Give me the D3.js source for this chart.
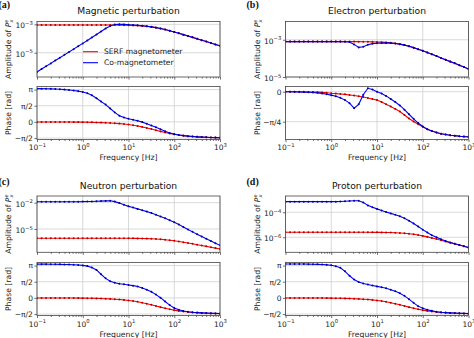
<!DOCTYPE html>
<html>
<head>
<meta charset="utf-8">
<script src="https://cdn.jsdelivr.net/npm/d3@7"></script>
<style>
  body { margin: 0; background: #fff; }
  svg { display: block; font-family: "DejaVu Sans", sans-serif; }
</style>
</head>
<body>
<svg id="chart" width="474" height="338"></svg>
<script>
// frequency grid [Hz], shared by every curve
const freq = [
  0.1, 0.126, 0.158, 0.2, 0.251, 0.316, 0.398, 0.501, 0.631, 0.794,
  1, 1.26, 1.58, 2, 2.51, 3.16, 3.98, 5.01, 6.31, 7.94,
  10, 12.6, 15.8, 20, 25.1, 31.6, 39.8, 50.1, 63.1, 79.4,
  100, 126, 158, 200, 251, 316, 398, 501, 631, 794, 1000];

const seriesNames = ["SERF magnetometer", "Co-magnetometer"];

// (a) magnetic perturbation
const ampMagSerf = [
  9.0e-4, 9.0e-4, 9.0e-4, 9.0e-4, 9.0e-4, 9.0e-4, 9.0e-4, 9.0e-4, 9.0e-4, 9.0e-4,
  9.0e-4, 9.0e-4, 9.0e-4, 9.0e-4, 8.98e-4, 8.96e-4, 8.93e-4, 8.89e-4, 8.85e-4, 8.75e-4,
  8.63e-4, 8.43e-4, 8.15e-4, 7.76e-4, 7.23e-4, 6.58e-4, 5.83e-4, 5.05e-4, 4.27e-4, 3.53e-4,
  2.89e-4, 2.34e-4, 1.88e-4, 1.51e-4, 1.21e-4, 9.6e-5, 7.6e-5, 6.1e-5, 4.8e-5, 3.8e-5, 3.1e-5];
const ampMagComag = [
  4.45e-7, 7.05e-7, 1.12e-6, 1.77e-6, 2.81e-6, 4.45e-6, 7.06e-6, 1.12e-5, 1.79e-5, 2.85e-5,
  4.55e-5, 7.31e-5, 1.18e-4, 1.93e-4, 3.16e-4, 5.10e-4, 7.67e-4, 9.68e-4, 1.02e-3, 9.89e-4,
  9.42e-4, 8.95e-4, 8.47e-4, 7.96e-4, 7.35e-4, 6.64e-4, 5.87e-4, 5.07e-4, 4.27e-4, 3.53e-4,
  2.89e-4, 2.34e-4, 1.88e-4, 1.51e-4, 1.21e-4, 9.6e-5, 7.6e-5, 6.1e-5, 4.8e-5, 3.8e-5, 3.1e-5];
const phaseMagSerf = [
  -0.003, -0.003, -0.004, -0.005, -0.007, -0.008, -0.010, -0.013, -0.017, -0.021,
  -0.026, -0.033, -0.042, -0.053, -0.066, -0.083, -0.104, -0.131, -0.165, -0.206,
  -0.257, -0.320, -0.394, -0.485, -0.584, -0.694, -0.809, -0.922, -1.029, -1.125,
  -1.207, -1.278, -1.336, -1.383, -1.421, -1.451, -1.476, -1.495, -1.511, -1.523, -1.533];
const phaseMagComag = [
  3.23, 3.23, 3.22, 3.21, 3.19, 3.17, 3.14, 3.10, 3.05, 2.99,
  2.90, 2.78, 2.58, 2.30, 1.98, 1.68, 1.30, 0.92, 0.60, 0.42,
  0.30, 0.21, 0.11, -0.02, -0.17, -0.35, -0.53, -0.72, -0.90, -1.07,
  -1.19, -1.27, -1.33, -1.383, -1.421, -1.451, -1.476, -1.495, -1.511, -1.523, -1.533];

// (b) electron perturbation
const ampElecSerf = [
  7.94e-4, 7.94e-4, 7.94e-4, 7.94e-4, 7.94e-4, 7.94e-4, 7.94e-4, 7.94e-4, 7.94e-4, 7.94e-4,
  7.94e-4, 7.94e-4, 7.94e-4, 7.94e-4, 7.94e-4, 7.94e-4, 7.89e-4, 7.85e-4, 7.81e-4, 7.73e-4,
  7.62e-4, 7.45e-4, 7.19e-4, 6.85e-4, 6.38e-4, 5.81e-4, 5.15e-4, 4.46e-4, 3.77e-4, 3.12e-4,
  2.55e-4, 2.07e-4, 1.66e-4, 1.33e-4, 1.06e-4, 8.5e-5, 6.7e-5, 5.4e-5, 4.3e-5, 3.4e-5, 2.7e-5];
const ampElecComag = [
  7.94e-4, 7.94e-4, 7.94e-4, 7.94e-4, 7.94e-4, 7.94e-4, 7.94e-4, 7.94e-4, 7.94e-4, 7.94e-4,
  7.94e-4, 7.94e-4, 7.94e-4, 7.76e-4, 7.59e-4, 5.62e-4, 3.89e-4, 4.17e-4, 5.37e-4, 6.17e-4,
  6.46e-4, 6.61e-4, 6.76e-4, 6.61e-4, 6.31e-4, 5.81e-4, 5.15e-4, 4.46e-4, 3.77e-4, 3.12e-4,
  2.55e-4, 2.07e-4, 1.66e-4, 1.33e-4, 1.06e-4, 8.5e-5, 6.7e-5, 5.4e-5, 4.3e-5, 3.4e-5, 2.7e-5];
const phaseElecSerf = [
  0, -0.001, -0.002, -0.003, -0.004, -0.006, -0.008, -0.012, -0.018, -0.027,
  -0.04, -0.05, -0.06, -0.07, -0.085, -0.10, -0.12, -0.14, -0.165, -0.19,
  -0.22, -0.27, -0.33, -0.39, -0.455, -0.52, -0.61, -0.70, -0.78, -0.85,
  -0.92, -0.98, -1.03, -1.07, -1.10, -1.12, -1.14, -1.15, -1.165, -1.175, -1.18];
const phaseElecComag = [
  0, -0.002, -0.004, -0.006, -0.01, -0.015, -0.02, -0.03, -0.045, -0.065,
  -0.09, -0.12, -0.16, -0.22, -0.30, -0.43, -0.33, -0.08, 0.09, 0.06,
  0.0, -0.05, -0.11, -0.19, -0.27, -0.36, -0.47, -0.59, -0.71, -0.82,
  -0.91, -0.98, -1.03, -1.07, -1.10, -1.12, -1.14, -1.15, -1.165, -1.175, -1.18];

// (c) neutron perturbation
const ampNeutSerf = [
  8.71e-7, 8.71e-7, 8.71e-7, 8.71e-7, 8.71e-7, 8.71e-7, 8.71e-7, 8.71e-7, 8.71e-7, 8.71e-7,
  8.71e-7, 8.71e-7, 8.71e-7, 8.71e-7, 8.71e-7, 8.71e-7, 8.71e-7, 8.68e-7, 8.67e-7, 8.63e-7,
  8.59e-7, 8.53e-7, 8.41e-7, 8.26e-7, 8.03e-7, 7.70e-7, 7.26e-7, 6.68e-7, 6.00e-7, 5.25e-7,
  4.48e-7, 3.75e-7, 3.08e-7, 2.51e-7, 2.02e-7, 1.62e-7, 1.30e-7, 1.04e-7, 8.24e-8, 6.56e-8, 5.21e-8];
const ampNeutComag = [
  0.0129, 0.0129, 0.0129, 0.0129, 0.0129, 0.0129, 0.0129, 0.0129, 0.0129, 0.0129,
  0.0132, 0.0135, 0.0138, 0.0145, 0.0151, 0.0158, 0.0162, 0.0132, 8.91e-3, 5.75e-3,
  3.80e-3, 2.75e-3, 1.95e-3, 1.38e-3, 9.55e-4, 6.61e-4, 4.27e-4, 2.69e-4, 1.66e-4, 1.0e-4,
  5.75e-5, 3.16e-5, 1.70e-5, 8.9e-6, 4.68e-6, 2.51e-6, 1.38e-6, 7.76e-7, 4.27e-7, 2.40e-7, 1.38e-7];
const phaseNeutSerf = [
  -0.003, -0.003, -0.004, -0.005, -0.006, -0.008, -0.010, -0.013, -0.016, -0.020,
  -0.025, -0.032, -0.040, -0.050, -0.063, -0.079, -0.099, -0.125, -0.157, -0.196,
  -0.245, -0.305, -0.376, -0.464, -0.560, -0.669, -0.783, -0.897, -1.006, -1.104,
  -1.190, -1.263, -1.324, -1.373, -1.413, -1.445, -1.471, -1.491, -1.508, -1.521, -1.531];
const phaseNeutComag = [
  3.28, 3.28, 3.28, 3.27, 3.27, 3.26, 3.25, 3.24, 3.22, 3.20,
  3.16, 3.09, 2.96, 2.72, 2.30, 1.90, 1.62, 1.47, 1.38, 1.32,
  1.26, 1.19, 1.10, 0.97, 0.80, 0.60, 0.32, 0.02, -0.35, -0.70,
  -0.98, -1.15, -1.27, -1.35, -1.40, -1.43, -1.455, -1.471, -1.491, -1.508, -1.521];

// (d) proton perturbation
const ampProtSerf = [
  2.51e-6, 2.51e-6, 2.51e-6, 2.51e-6, 2.51e-6, 2.51e-6, 2.51e-6, 2.51e-6, 2.51e-6, 2.51e-6,
  2.51e-6, 2.51e-6, 2.51e-6, 2.51e-6, 2.51e-6, 2.51e-6, 2.51e-6, 2.50e-6, 2.50e-6, 2.49e-6,
  2.48e-6, 2.46e-6, 2.43e-6, 2.38e-6, 2.32e-6, 2.22e-6, 2.09e-6, 1.93e-6, 1.73e-6, 1.51e-6,
  1.29e-6, 1.08e-6, 8.89e-7, 7.23e-7, 5.83e-7, 4.68e-7, 3.74e-7, 2.99e-7, 2.38e-7, 1.89e-7, 1.50e-7];
const ampProtComag = [
  7.08e-4, 7.08e-4, 7.08e-4, 7.08e-4, 7.08e-4, 7.08e-4, 7.08e-4, 7.08e-4, 7.08e-4, 7.08e-4,
  7.08e-4, 7.08e-4, 7.24e-4, 7.59e-4, 7.94e-4, 8.32e-4, 8.32e-4, 6.03e-4, 3.55e-4, 2.51e-4,
  1.86e-4, 1.41e-4, 1.07e-4, 8.13e-5, 6.31e-5, 4.79e-5, 3.31e-5, 2.09e-5, 1.26e-5, 7.24e-6,
  4.07e-6, 2.40e-6, 1.48e-6, 1.0e-6, 7.08e-7, 5.13e-7, 3.89e-7, 3.05e-7, 2.40e-7, 1.91e-7, 1.51e-7];
const phaseProtSerf = [
  -0.003, -0.003, -0.004, -0.005, -0.006, -0.008, -0.010, -0.013, -0.016, -0.020,
  -0.025, -0.032, -0.040, -0.050, -0.063, -0.079, -0.099, -0.125, -0.157, -0.196,
  -0.245, -0.305, -0.376, -0.464, -0.560, -0.669, -0.783, -0.897, -1.006, -1.104,
  -1.190, -1.263, -1.324, -1.373, -1.413, -1.445, -1.471, -1.491, -1.508, -1.521, -1.531];
const phaseProtComag = [
  3.30, 3.30, 3.30, 3.29, 3.29, 3.28, 3.27, 3.26, 3.24, 3.21,
  3.17, 3.08, 2.92, 2.58, 2.15, 1.78, 1.55, 1.40, 1.30, 1.21,
  1.12, 1.03, 0.93, 0.80, 0.65, 0.46, 0.20, -0.12, -0.48, -0.80,
  -1.00, -1.15, -1.26, -1.34, -1.40, -1.43, -1.455, -1.471, -1.491, -1.508, -1.521];

const piTicks = [-Math.PI / 2, 0, Math.PI / 2, Math.PI];
const piLabels = ["\u2212\u03c0/2", "0", "\u03c0/2", "\u03c0"];

const panels = [
  {letter: "(a)", title: "Magnetic perturbation", col: 0, row: 0,
   amp: [ampMagSerf, ampMagComag], phase: [phaseMagSerf, phaseMagComag],
   ampDomain: [10 ** -6.71, 10 ** -2.80], ampTicks: [1e-5, 1e-3],
   phaseDomain: [-1.71, 3.44], phaseTicks: piTicks, phaseLabels: piLabels, legend: true},
  {letter: "(b)", title: "Electron perturbation", col: 1, row: 0,
   amp: [ampElecSerf, ampElecComag], phase: [phaseElecSerf, phaseElecComag],
   ampDomain: [1e-5, 10 ** -2.02], ampTicks: [1e-5, 1e-3],
   phaseDomain: [-1.251, 0.136], phaseTicks: [-Math.PI / 4, 0], phaseLabels: ["\u2212\u03c0/4", "0"]},
  {letter: "(c)", title: "Neutron perturbation", col: 0, row: 1,
   amp: [ampNeutSerf, ampNeutComag], phase: [phaseNeutSerf, phaseNeutComag],
   ampDomain: [10 ** -7.66, 10 ** -1.24], ampTicks: [1e-5, 1e-2],
   phaseDomain: [-1.71, 3.44], phaseTicks: piTicks, phaseLabels: piLabels},
  {letter: "(d)", title: "Proton perturbation", col: 1, row: 1,
   amp: [ampProtSerf, ampProtComag], phase: [phaseProtSerf, phaseProtComag],
   ampDomain: [10 ** -7.2, 10 ** -2.70], ampTicks: [1e-6, 1e-4],
   phaseDomain: [-1.71, 3.44], phaseTicks: piTicks, phaseLabels: piLabels}
];

const colors = ["#ff0000", "#0000ff"];
const markColors = ["#b00000", "#00009a"];

const cols = [{x0: 37, x1: 220, lab: 8, letterX: -1.5},
              {x0: 285.5, x1: 468.5, lab: 257.5, letterX: 246.5}];
const rows = [{amp: [21.5, 77], ph: [86.5, 139.5], title: 14, letter: 7.5, tick: 150, xlab: 159.5},
              {amp: [196, 252.3], ph: [262.5, 315.5], title: 189, letter: 185, tick: 326.5, xlab: 336.5}];

const majorX = [0.1, 1, 10, 100, 1000];
const minorX = [];
for (let e = -1; e < 3; e++) for (let k = 2; k <= 9; k++) minorX.push(k * 10 ** e);

const svg = d3.select("#chart");

function powLabel(text, v) {
  const e = Math.round(Math.log10(v));
  text.text(null);
  text.append("tspan").text("10");
  text.append("tspan").attr("font-size", 5.3).attr("dy", -3.3)
    .text(e < 0 ? "\u2212" + (-e) : String(e));
}

function styleAxis(g) {
  g.select(".domain").remove();
  g.selectAll(".tick line").attr("stroke", "#333").attr("stroke-width", 0.7);
  g.selectAll("text").attr("font-size", 7.5).attr("fill", "#222")
    .attr("font-family", "DejaVu Sans, sans-serif");
}

function frame(g, x0, x1, y0, y1) {
  g.append("rect").attr("x", x0).attr("y", y0)
    .attr("width", x1 - x0).attr("height", y1 - y0)
    .attr("fill", "none").attr("stroke", "#444").attr("stroke-width", 0.8);
}

function curves(g, x, y, list) {
  list.forEach((vals, i) => {
    const pts = freq.map((f, j) => [x(f), y(vals[j])]);
    g.append("path").attr("d", d3.line()(pts))
      .attr("fill", "none").attr("stroke", colors[i]).attr("stroke-width", 1.1);
    g.selectAll(null).data(pts).enter().append("circle")
      .attr("cx", d => d[0]).attr("cy", d => d[1]).attr("r", 1)
      .attr("fill", markColors[i]);
  });
}

function drawPanel(p) {
  const c = cols[p.col], r = rows[p.row];
  const g = svg.append("g");
  const x = d3.scaleLog().domain([0.1, 1000]).range([c.x0, c.x1]);
  const yA = d3.scaleLog().domain(p.ampDomain).range([r.amp[1], r.amp[0]]);
  const yP = d3.scaleLinear().domain(p.phaseDomain).range([r.ph[1], r.ph[0]]);

  // grids
  [[r.amp, yA, p.ampTicks], [r.ph, yP, p.phaseTicks]].forEach(([ys, sc, ticks]) => {
    g.selectAll(null).data(majorX).enter().append("line")
      .attr("x1", d => x(d)).attr("x2", d => x(d)).attr("y1", ys[0]).attr("y2", ys[1])
      .attr("stroke", "#cfcfcf").attr("stroke-width", 0.8);
    g.selectAll(null).data(ticks).enter().append("line")
      .attr("x1", c.x0).attr("x2", c.x1).attr("y1", d => sc(d)).attr("y2", d => sc(d))
      .attr("stroke", "#cfcfcf").attr("stroke-width", 0.8);
  });

  const ampClip = "clipA" + p.col + p.row;
  const phClip = "clipP" + p.col + p.row;
  const defs = g.append("defs");
  defs.append("clipPath").attr("id", ampClip).append("rect")
    .attr("x", c.x0).attr("y", r.amp[0]).attr("width", c.x1 - c.x0).attr("height", r.amp[1] - r.amp[0]);
  defs.append("clipPath").attr("id", phClip).append("rect")
    .attr("x", c.x0).attr("y", r.ph[0]).attr("width", c.x1 - c.x0).attr("height", r.ph[1] - r.ph[0]);

  curves(g.append("g").attr("clip-path", `url(#${ampClip})`), x, yA, p.amp);
  curves(g.append("g").attr("clip-path", `url(#${phClip})`), x, yP, p.phase);

  frame(g, c.x0, c.x1, r.amp[0], r.amp[1]);
  frame(g, c.x0, c.x1, r.ph[0], r.ph[1]);

  // x ticks on both plots, labels only under the phase plot
  [r.amp[1], r.ph[1]].forEach((yb, k) => {
    const ax = g.append("g").attr("transform", `translate(0,${yb})`)
      .call(d3.axisBottom(x).tickValues(majorX).tickSize(2.6).tickPadding(1.5)
        .tickFormat(k === 1 ? (d => d) : () => ""));
    styleAxis(ax);
    if (k === 1) ax.selectAll("text").attr("y", r.tick - yb).attr("dy", 0)
      .each(function (d) { powLabel(d3.select(this), d); });
    const mn = g.append("g").attr("transform", `translate(0,${yb})`)
      .call(d3.axisBottom(x).tickValues(minorX).tickSize(1.5).tickFormat(() => ""));
    styleAxis(mn);
  });

  // y axes
  const ay = g.append("g").attr("transform", `translate(${c.x0},0)`)
    .call(d3.axisLeft(yA).tickValues(p.ampTicks).tickSize(2.6).tickPadding(1.5));
  styleAxis(ay);
  ay.selectAll("text").attr("dy", "0.45em").each(function (d) { powLabel(d3.select(this), d); });

  const ap = g.append("g").attr("transform", `translate(${c.x0},0)`)
    .call(d3.axisLeft(yP).tickValues(p.phaseTicks).tickSize(2.6).tickPadding(1.5)
      .tickFormat((d, i) => p.phaseLabels[i]));
  styleAxis(ap);

  // labels
  const cx = (c.x0 + c.x1) / 2;
  g.append("text").attr("x", cx).attr("y", r.title).attr("text-anchor", "middle")
    .attr("font-size", 9.2).attr("fill", "#111").text(p.title);
  g.append("text").attr("x", cx).attr("y", r.xlab).attr("text-anchor", "middle")
    .attr("font-size", 7.7).attr("fill", "#222").text("Frequency [Hz]");
  g.append("text").attr("x", c.letterX).attr("y", r.letter)
    .attr("font-family", "Liberation Serif, serif").attr("font-weight", "bold")
    .attr("font-size", 10).attr("fill", "#111").text(p.letter);

  const ampLab = g.append("text")
    .attr("transform", `translate(${c.lab + 2.7},${(r.amp[0] + r.amp[1]) / 2}) rotate(-90)`)
    .attr("text-anchor", "middle").attr("font-size", 7.7).attr("fill", "#222");
  ampLab.append("tspan").text("Amplitude of ");
  ampLab.append("tspan").attr("font-style", "italic").text("P");
  ampLab.append("tspan").attr("font-size", 5).attr("dy", -3).attr("font-style", "italic").text("e");
  ampLab.append("tspan").attr("font-size", 5).attr("dx", -3).attr("dy", 5.2).attr("font-style", "italic").text("x");

  g.append("text")
    .attr("transform", `translate(${c.lab + 2.7},${(r.ph[0] + r.ph[1]) / 2}) rotate(-90)`)
    .attr("text-anchor", "middle").attr("font-size", 7.7).attr("fill", "#222").text("Phase [rad]");

  if (p.legend) {
    const lg = g.append("g");
    seriesNames.forEach((name, i) => {
      const ly = 51.7 + i * 11;
      lg.append("line").attr("x1", 83).attr("x2", 98).attr("y1", ly).attr("y2", ly)
        .attr("stroke", colors[i]).attr("stroke-width", 1.1);
      lg.append("text").attr("x", 104).attr("y", ly + 2.7)
        .attr("font-size", 7.6).attr("fill", "#222").text(name);
    });
  }
}

panels.forEach(drawPanel);
</script>
</body>
</html>
